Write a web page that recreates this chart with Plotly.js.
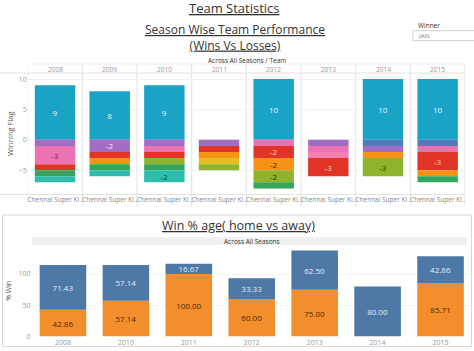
<!DOCTYPE html>
<html><head><meta charset="utf-8">
<script src="https://cdn.plot.ly/plotly-3.0.1.min.js"></script>
<style>html,body{margin:0;padding:0;background:#fff;}#chart{width:474px;height:351px;}</style>
</head><body><div id="chart"></div>
<script>
// ---- Top chart data: season-wise wins (positive) and losses by winner (negative)
const seasons = ['2008','2009','2010','2011','2012','2013','2014','2015'];
const teamLabels = ['Chennai Super Ki..','Chennai Super Ki..','Chennai Super Ki..','Chennai Super Ki..','Chennai Super Ki..','Chennai Super Ki..','Chennai Super Ki..','Chennai Super Ki..'];
const winnerNames = ['Chennai Super Kings','Sunrisers Hyderabad','Royal Challengers Bangalore','Rajasthan Royals','Pune Warriors','Mumbai Indians','Kolkata Knight Riders','Kochi Tuskers Kerala','Kings XI Punjab','Delhi Daredevils','Deccan Chargers'];
const flagCSK  = [9, 8, 9, null, 10, null, 10, 10];
const flagSRH  = [null, null, null, null, null, null, -1, -1];
const flagRCB  = [-1, -2, -1, -1, null, -1, -1, null];
const flagRR   = [-3, null, -1, null, -1, -1, null, -1];
const flagPW   = [null, null, null, null, null, -1, null, null];
const flagMI   = [-1, -1, -1, -1, -2, -3, null, -3];
const flagKKR  = [null, -1, null, -1, -2, null, -1, -1];
const flagKTK  = [null, null, null, -1, null, null, null, null];
const flagKXIP = [null, null, -1, -1, -2, null, -3, null];
const flagDD   = [-1, -1, -1, null, -1, null, null, -1];
const flagDC   = [-1, -1, -2, null, null, null, null, null];

// ---- Bottom chart data: win % home vs away
const pctSeasons = ['2008','2010','2011','2012','2013','2014','2015'];
const homeWinPct = [42.86, 57.14, 100.00, 60.00, 75.00, null, 85.71];
const awayWinPct = [71.43, 57.14, 16.67, 33.33, 62.50, 80.00, 42.86];

const W = 474, H = 351;
const px = v => v / W;
const py = v => 1 - v / H;
const FONT = 'Open Sans, Lato, sans-serif';

const flagSeries = [flagCSK, flagSRH, flagRCB, flagRR, flagPW, flagMI, flagKKR, flagKTK, flagKXIP, flagDD, flagDC];
const flagColors = ['#1ba3c6','#4f7cba','#a26dc2','#eb73b3','#f47fb0','#e03426','#f89217','#e8bd22','#8fb32d','#33a65c','#30bcad'];
const flagTextColors = ['#e6f6fb','#e6eef8','#f1e6fa','#5a2450','#5a2450','#f9d4d0','#4a2a00','#4a3a00','#2c3a08','#0c3a1c','#0e4a42'];

const traces = flagSeries.map((vals, i) => ({
  type: 'bar', x: seasons, y: vals, name: winnerNames[i],
  xaxis: 'x', yaxis: 'y',
  marker: {color: flagColors[i], line: {width: 0}},
  text: vals.map(v => (v !== null && Math.abs(v) >= 2) ? String(v) : ''),
  textposition: 'inside', insidetextanchor: 'middle', constraintext: 'none', textangle: 0,
  textfont: {size: 8, color: flagTextColors[i], family: FONT},
  hoverinfo: 'skip', showlegend: false
}));

traces.push({
  type: 'bar', x: pctSeasons, y: homeWinPct, name: 'Home',
  xaxis: 'x2', yaxis: 'y2',
  marker: {color: '#f28e2b'},
  texttemplate: '%{y:.2f}', textposition: 'inside', insidetextanchor: 'middle', constraintext: 'none', textangle: 0,
  textfont: {size: 8, color: '#4a2a10', family: FONT},
  hoverinfo: 'skip', showlegend: false
});
traces.push({
  type: 'bar', x: pctSeasons, y: awayWinPct, name: 'Away',
  xaxis: 'x2', yaxis: 'y2',
  marker: {color: '#4e79a7'},
  texttemplate: '%{y:.2f}', textposition: 'inside', insidetextanchor: 'middle', constraintext: 'none', textangle: 0,
  textfont: {size: 8, color: '#e3ebf5', family: FONT},
  hoverinfo: 'skip', showlegend: false
});

const lineC = '#e2e2e2';
const shapes = [];
// top chart column separators
for (let i = 0; i <= seasons.length; i++) {
  shapes.push({type: 'line', xref: 'x', yref: 'paper', x0: i - 0.5, x1: i - 0.5,
    y0: py(64), y1: py(207), line: {color: lineC, width: 1}, layer: 'below'});
}
shapes.push({type: 'line', xref: 'paper', yref: 'paper', x0: 0, x1: px(465), y0: py(73), y1: py(73), line: {color: lineC, width: 1}});
shapes.push({type: 'line', xref: 'paper', yref: 'paper', x0: 0, x1: px(465), y0: py(194.5), y1: py(194.5), line: {color: lineC, width: 1}});
shapes.push({type: 'line', xref: 'paper', yref: 'paper', x0: px(27.7), x1: px(465), y0: py(64), y1: py(64), line: {color: '#eeeeee', width: 1}});
// bottom panel border
shapes.push({type: 'rect', xref: 'paper', yref: 'paper', x0: px(2.5), x1: px(471.5), y0: py(346.5), y1: py(215),
  line: {color: '#d8d8d8', width: 1}, fillcolor: 'rgba(0,0,0,0)'});
// header band
shapes.push({type: 'rect', xref: 'paper', yref: 'paper', x0: px(31.7), x1: px(467), y0: py(245), y1: py(237.3),
  line: {width: 0}, fillcolor: '#f0f0f0', layer: 'below'});
// filter box
shapes.push({type: 'rect', xref: 'paper', yref: 'paper', x0: px(413), x1: px(476), y0: py(40.7), y1: py(30.7),
  line: {color: '#d0d0d0', width: 1}, fillcolor: '#ffffff'});

const annotations = [
  {text: '<u>Team Statistics</u>', x: px(234), y: py(7.5), xref: 'paper', yref: 'paper', showarrow: false,
   font: {size: 13, color: '#333', family: FONT}, xanchor: 'center', yanchor: 'middle'},
  {text: '<u>Season Wise Team Performance</u><br><u>(Wins Vs Losses)</u>', x: px(234.5), y: py(37.6), xref: 'paper', yref: 'paper', showarrow: false,
   font: {size: 12, color: '#333', family: FONT}, xanchor: 'center', yanchor: 'middle'},
  {text: 'Winner', x: px(416), y: py(25.5), xref: 'paper', yref: 'paper', showarrow: false,
   font: {size: 6.5, color: '#333', family: FONT}, xanchor: 'left', yanchor: 'middle'},
  {text: '(All)', x: px(417), y: py(35.8), xref: 'paper', yref: 'paper', showarrow: false,
   font: {size: 6, color: '#777', family: FONT}, xanchor: 'left', yanchor: 'middle'},
  {text: 'Across All Seasons / Team', x: px(246.5), y: py(60.5), xref: 'paper', yref: 'paper', showarrow: false,
   font: {size: 6.5, color: '#333', family: FONT}, xanchor: 'center', yanchor: 'middle', borderpad: 0},
  {text: '<u>Win % age( home vs away)</u>', x: px(238), y: py(225.5), xref: 'paper', yref: 'paper', showarrow: false,
   font: {size: 12.5, color: '#333', family: FONT}, xanchor: 'center', yanchor: 'middle'},
  {text: 'Across All Seasons', x: px(252), y: py(241.2), xref: 'paper', yref: 'paper', showarrow: false,
   font: {size: 6.5, color: '#333', family: FONT}, xanchor: 'center', yanchor: 'middle', borderpad: 0}
];
seasons.forEach((s, i) => annotations.push({text: s, x: i, xref: 'x', y: py(69.3), yref: 'paper', showarrow: false,
  font: {size: 6.5, color: '#999', family: FONT}, xanchor: 'center', yanchor: 'middle', borderpad: 0}));

const layout = {
  width: W, height: H,
  margin: {l: 0, r: 0, t: 0, b: 0},
  paper_bgcolor: '#fff', plot_bgcolor: 'rgba(0,0,0,0)',
  barmode: 'relative', bargap: 0.26,
  font: {family: FONT},
  xaxis: {domain: [px(27.7), px(465)], anchor: 'y', type: 'category', range: [-0.5, seasons.length - 0.5],
    tickvals: seasons, ticktext: teamLabels, tickangle: 0,
    tickfont: {size: 6.5, color: '#888', family: FONT}, showgrid: false, zeroline: false, showline: false,
    ticks: '', ticklen: 2, fixedrange: true},
  yaxis: {domain: [py(194.5), py(73)], anchor: 'x', range: [-9, 11], tickvals: [-5, 0, 5, 10],
    tickfont: {size: 7, color: '#999', family: FONT}, showgrid: true, gridcolor: '#f2f2f2', zeroline: false,
    showline: false, ticks: '', ticklen: 3,
    title: {text: 'Winning Flag', font: {size: 7.5, color: '#555', family: FONT}, standoff: 4}},
  xaxis2: {domain: [px(31.5), px(472)], anchor: 'y2', type: 'category', range: [-0.5, pctSeasons.length - 0.5],
    tickangle: 0,
    tickfont: {size: 7, color: '#999', family: FONT}, showgrid: false, zeroline: false, showline: false,
    ticks: '', ticklen: 1},
  yaxis2: {domain: [py(336.5), py(245)], anchor: 'x2', range: [0, 146.5], tickvals: [0, 50, 100],
    tickfont: {size: 7, color: '#999', family: FONT}, showgrid: true, gridcolor: '#f4f4f4', zeroline: false,
    showline: false, ticks: '', ticklen: 3,
    title: {text: '% Win', font: {size: 7, color: '#555', family: FONT}, standoff: 6}},
  shapes: shapes,
  annotations: annotations
};

Plotly.newPlot('chart', traces, layout, {displayModeBar: false, staticPlot: true});
</script>
</body></html>
